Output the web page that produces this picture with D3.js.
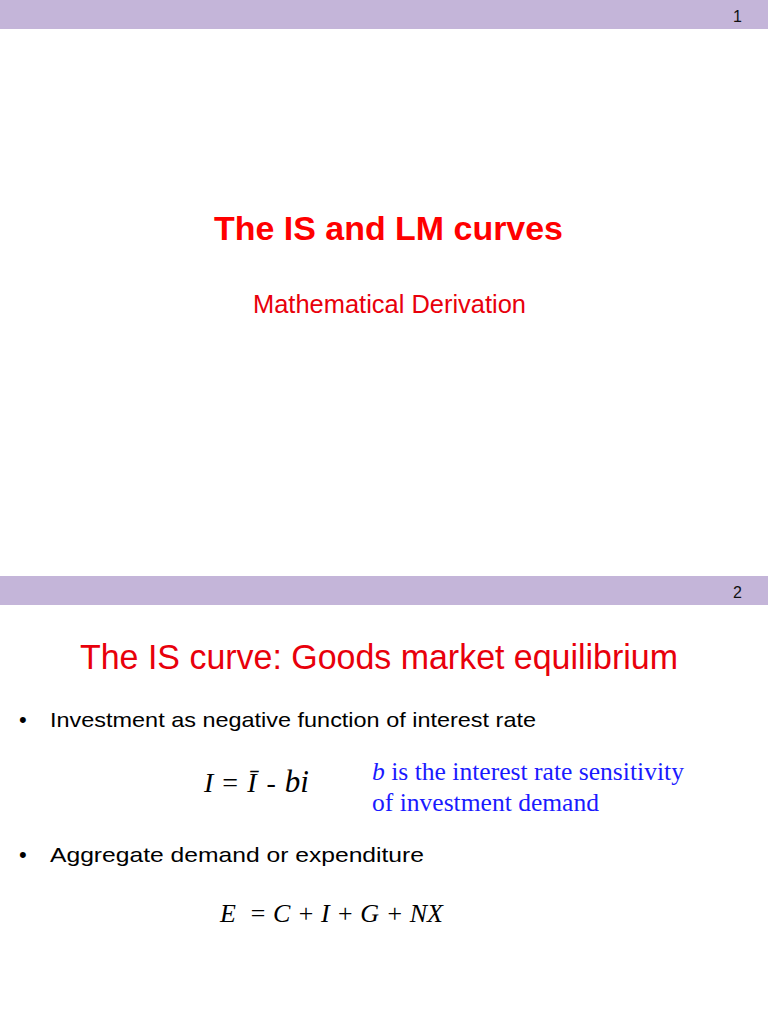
<!DOCTYPE html>
<html>
<head>
<meta charset="utf-8">
<script src="https://cdn.jsdelivr.net/npm/d3@7"></script>
<style>
  body { margin: 0; background: #fff; }
  svg { display: block; }
</style>
</head>
<body>
<div id="content"></div>
<script>
// slide texts
const slideNumbers = ["1", "2"];
const slideTitles = ["The IS and LM curves", "The IS curve: Goods market equilibrium"];
const subtitles = ["Mathematical Derivation"];
const bullets = ["Investment as negative function of interest rate", "Aggregate demand or expenditure"];
const equations = ["I = Ī - bi", "E  = C + I + G + NX"];
const noteLines = ["b is the interest rate sensitivity", "of investment demand"];

const width = 768, height = 1024;
const sans = 'Liberation Sans, Arial, sans-serif';
const serif = 'Liberation Serif, Times New Roman, serif';

const svg = d3.select('#content')
    .append('svg')
    .attr('width', width)
    .attr('height', height)

// top of each slide
const slideTop = d3.scaleOrdinal()
    .domain(slideNumbers)
    .range([0, 576])

// header bars
svg.selectAll('rect.bar')
    .data(slideNumbers)
    .join('rect')
    .attr('class', 'bar')
    .attr('x', 0)
    .attr('y', d => slideTop(d))
    .attr('width', width)
    .attr('height', 29)
    .attr('fill', '#c4b5d9')

// page numbers
svg.selectAll('text.num')
    .data(slideNumbers)
    .join('text')
    .attr('class', 'num')
    .attr('x', 742)
    .attr('y', d => slideTop(d) + 22)
    .attr('text-anchor', 'end')
    .attr('font-family', sans)
    .attr('font-size', 16)
    .attr('fill', '#111')
    .text(d => d)

// helper: text stretched to the width seen in the picture
const stretch = (sel, len, adj = 'spacingAndGlyphs') => sel.attr('textLength', len).attr('lengthAdjust', adj)

// slide 1 title and subtitle
svg.append('text')
    .attr('x', 214)
    .attr('y', 240)
    .attr('font-family', sans)
    .attr('font-weight', 'bold')
    .attr('font-size', 34)
    .attr('fill', '#f00')
    .text(slideTitles[0])
    .call(stretch, 349)

svg.append('text')
    .attr('x', 253)
    .attr('y', 313)
    .attr('font-family', sans)
    .attr('font-size', 25)
    .attr('fill', '#e8000b')
    .text(subtitles[0])
    .call(stretch, 273)

// slide 2 title
svg.append('text')
    .attr('x', 80)
    .attr('y', 669)
    .attr('font-family', sans)
    .attr('font-size', 35)
    .attr('fill', '#e8000b')
    .text(slideTitles[1])
    .call(stretch, 598)

// bullets
const bulletY = [727, 862];
const bulletLen = [486, 374];
const bullet = svg.selectAll('g.bullet')
    .data(bullets)
    .join('g')
    .attr('class', 'bullet')
    .attr('transform', (d, i) => `translate(0,${bulletY[i]})`)

bullet.append('text')
    .attr('x', 19)
    .attr('font-family', sans)
    .attr('font-size', 22)
    .attr('fill', '#000')
    .text('•')

bullet.append('text')
    .attr('x', 50)
    .attr('font-family', sans)
    .attr('font-size', 21)
    .attr('fill', '#000')
    .text(d => d)
    .each(function(d, i) { stretch(d3.select(this), bulletLen[i]) })

// first equation, token by token so the gaps match
const eqGaps = [0, 9, 9, 10, 9];
const eqSizes = [28, 28, 28, 28, 31];
svg.append('text')
    .attr('x', 204)
    .attr('y', 792)
    .attr('font-family', serif)
    .attr('font-style', 'italic')
    .attr('font-size', 28)
    .attr('fill', '#000')
    .selectAll('tspan')
    .data(equations[0].split(' '))
    .join('tspan')
    .attr('dx', (d, i) => eqGaps[i])
    .attr('font-size', (d, i) => eqSizes[i])
    .attr('font-style', d => (d == '=' || d == '-') ? 'normal' : 'italic')
    .text(d => d)

// second equation
svg.append('text')
    .attr('x', 220)
    .attr('y', 922)
    .attr('font-family', serif)
    .attr('font-style', 'italic')
    .attr('font-size', 26)
    .attr('fill', '#000')
    .style('white-space', 'pre')
    .text(equations[1])
    .call(stretch, 223, 'spacing')

// blue note
const noteY = [780, 811];
const noteLen = [312, 227];
const note = svg.selectAll('text.note')
    .data(noteLines)
    .join('text')
    .attr('class', 'note')
    .attr('x', 372)
    .attr('y', (d, i) => noteY[i])
    .attr('font-family', serif)
    .attr('font-size', 25)
    .attr('fill', '#1a1aff')

note.each(function(d, i) {
    const t = d3.select(this)
    if (i == 0) {
        t.append('tspan').attr('font-style', 'italic').text('b')
        t.append('tspan').text(d.substring(1))
    } else {
        t.text(d)
    }
    stretch(t, noteLen[i])
})
</script>
</body>
</html>
